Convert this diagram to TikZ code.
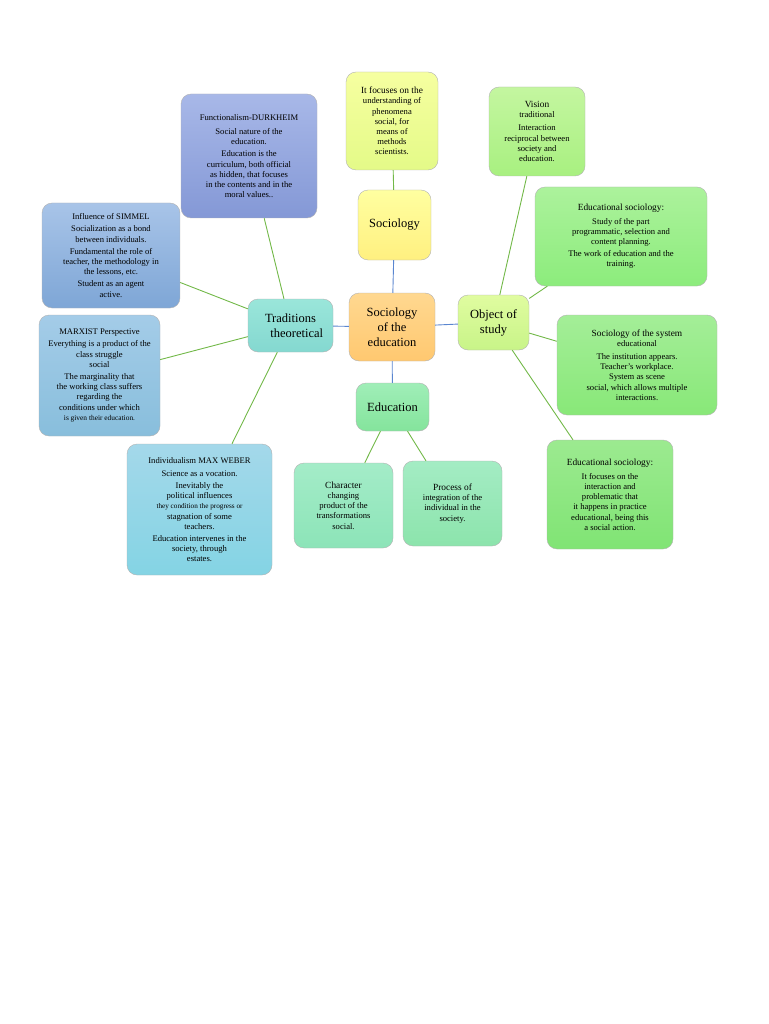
\documentclass[tikz,border=0pt]{standalone}
\usepackage{fontspec}
\setmainfont{Liberation Serif}
\definecolor{durkT}{HTML}{A8B8E8}\definecolor{durkB}{HTML}{8498D6}
\definecolor{simT}{HTML}{A8C4E8}\definecolor{simB}{HTML}{7EA6D6}
\definecolor{marT}{HTML}{A4CCE8}\definecolor{marB}{HTML}{88BEDC}
\definecolor{webT}{HTML}{A4D8EA}\definecolor{webB}{HTML}{84D4E4}
\definecolor{traT}{HTML}{9AE6DA}\definecolor{traB}{HTML}{84D8D0}
\definecolor{cenT}{HTML}{FFD890}\definecolor{cenB}{HTML}{FFC870}
\definecolor{socT}{HTML}{FFFFA0}\definecolor{socB}{HTML}{FFF080}
\definecolor{focT}{HTML}{F6FFA0}\definecolor{focB}{HTML}{E4FA88}
\definecolor{eduT}{HTML}{A0EEB8}\definecolor{eduB}{HTML}{84E49C}
\definecolor{chaT}{HTML}{A4ECC8}\definecolor{chaB}{HTML}{8CE4B8}
\definecolor{proT}{HTML}{A4ECC4}\definecolor{proB}{HTML}{8CE4AC}
\definecolor{objT}{HTML}{E0FCA0}\definecolor{objB}{HTML}{C8F488}
\definecolor{visT}{HTML}{C4F6A0}\definecolor{visB}{HTML}{A8F080}
\definecolor{es1T}{HTML}{ACF29C}\definecolor{es1B}{HTML}{8CEC7C}
\definecolor{sysT}{HTML}{A4EE98}\definecolor{sysB}{HTML}{88E878}
\definecolor{es2T}{HTML}{9CEA90}\definecolor{es2B}{HTML}{80E474}
\definecolor{gline}{HTML}{72B848}\definecolor{bline}{HTML}{5A86D0}
\begin{document}
\begin{tikzpicture}[x=1pt,y=-1pt,
 box/.style={draw=black!30,rounded corners=10pt,align=center,inner sep=0pt,font=\fontsize{8.6}{10.2}\selectfont},
 big/.style={box,font=\fontsize{12.5}{15}\selectfont},
 gl/.style={draw=gline,line width=0.9pt},
 bl/.style={draw=bline,line width=0.9pt}]
\useasboundingbox (0,0) rectangle (768,1024);
\newcommand{\bx}[9]{\node[#1,minimum width=#4-#2,minimum height=#5-#3,top color=#6,bottom color=#7] (#8) at ({(#2+#4)/2},{(#3+#5)/2}) {#9};}
\bx{box}{181}{94}{317}{218}{durkT}{durkB}{durk}{Functionalism-DURKHEIM\\[4pt]Social nature of the\\education.\\[2pt]Education is the\\curriculum, both official\\as hidden, that focuses\\in the contents and in the\\moral values..}
\bx{box}{42}{203}{180}{308}{simT}{simB}{simmel}{Influence of SIMMEL\\[2pt]Socialization as a bond\\between individuals.\\[2pt]Fundamental the role of\\teacher, the methodology in\\the lessons, etc.\\[2pt]Student as an agent\\active.}
\bx{box}{39}{315}{160}{436}{marT}{marB}{marx}{MARXIST Perspective\\[2pt]Everything is a product of the\\class struggle\\social\\[2pt]The marginality that\\the working class suffers\\regarding the\\conditions under which\\{\fontsize{7.4}{8.6}\selectfont is given their education.}}
\bx{box}{127}{444}{272}{575}{webT}{webB}{weber}{Individualism MAX WEBER\\[3pt]Science as a vocation.\\[2pt]Inevitably the\\political influences\\{\fontsize{7.2}{8.6}\selectfont they condition the progress or}\\stagnation of some\\teachers.\\[2pt]Education intervenes in the\\society, through\\estates.}
\bx{big}{248}{299}{333}{352}{traT}{traB}{trad}{Traditions\\\quad theoretical}
\bx{big}{349}{293}{435}{361}{cenT}{cenB}{cen}{Sociology\\of the\\education}
\bx{big}{358}{190}{431}{260}{socT}{socB}{soc}{Sociology}
\bx{box}{346}{72}{438}{170}{focT}{focB}{foc}{\fontsize{9.4}{12}\selectfont It focuses on the\\understanding of\\phenomena\\social, for\\means of\\methods\\scientists.}
\bx{big}{356}{383}{429}{431}{eduT}{eduB}{edu}{Education}
\bx{box}{294}{463}{393}{548}{chaT}{chaB}{cha}{\fontsize{9.4}{12}\selectfont Character\\changing\\product of the\\transformations\\social.}
\bx{box}{403}{461}{502}{546}{proT}{proB}{pro}{\fontsize{9.4}{12}\selectfont Process of\\integration of the\\individual in the\\society.}
\bx{big}{458}{295}{529}{350}{objT}{objB}{obj}{Object of\\study}
\bx{box}{489}{87}{585}{176}{visT}{visB}{vis}{\fontsize{9.4}{11.4}\selectfont Vision\\traditional\\[3pt]Interaction\\reciprocal between\\society and\\education.}
\bx{box}{535}{187}{707}{286}{es1T}{es1B}{es1}{\fontsize{9.4}{12}\selectfont Educational sociology:\\[3pt]Study of the part\\programmatic, selection and\\content planning.\\[2pt]The work of education and the\\training.}
\bx{box}{557}{315}{717}{415}{sysT}{sysB}{sys}{\fontsize{9.4}{12}\selectfont Sociology of the system\\educational\\[3pt]The institution appears.\\Teacher's workplace.\\System as scene\\social, which allows multiple\\interactions.}
\bx{box}{547}{440}{673}{549}{es2T}{es2B}{es2}{\fontsize{9.4}{11.6}\selectfont Educational sociology:\\[4pt]It focuses on the\\interaction and\\problematic that\\it happens in practice\\educational, being this\\a social action.}
\draw[gl] (trad) -- (durk);
\draw[gl] (trad) -- (simmel);
\draw[gl] (trad) -- (marx);
\draw[gl] (trad) -- (weber);
\draw[bl] (cen) -- (trad);
\draw[bl] (cen) -- (soc);
\draw[gl] (soc) -- (foc);
\draw[bl] (cen) -- (edu);
\draw[bl] (cen) -- (obj);
\draw[gl] (edu) -- (cha);
\draw[gl] (edu) -- (pro);
\draw[gl] (obj) -- (vis);
\draw[gl] (obj) -- (es1);
\draw[gl] (obj) -- (sys);
\draw[gl] (obj) -- (es2);
\end{tikzpicture}
\end{document}
